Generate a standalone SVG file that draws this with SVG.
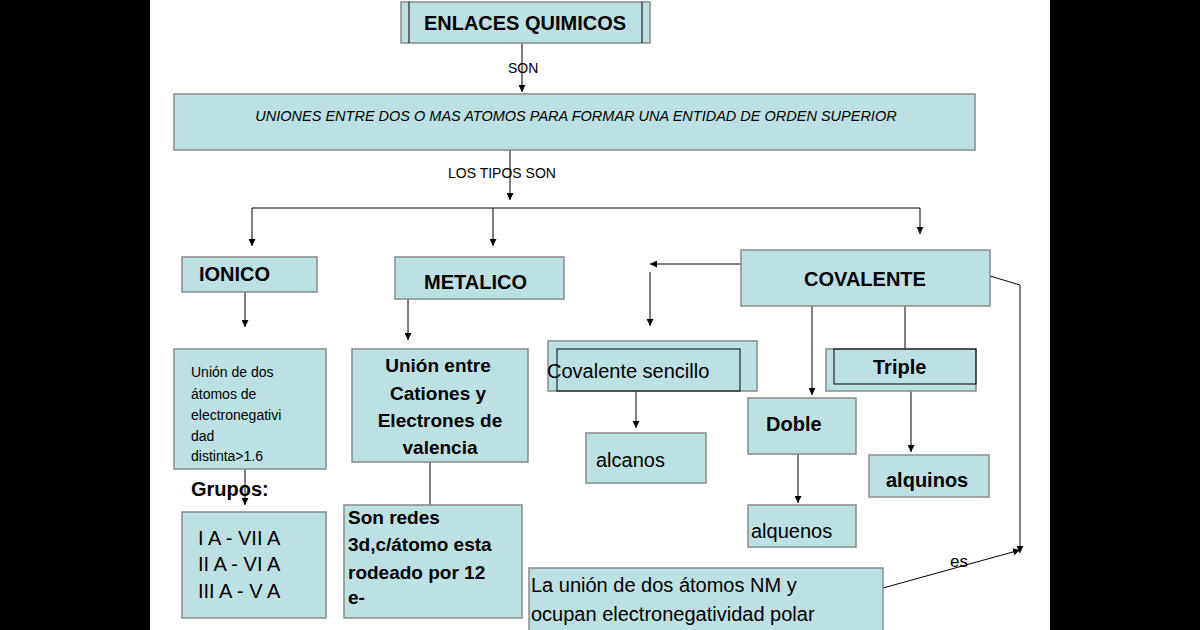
<svg xmlns="http://www.w3.org/2000/svg" width="1200" height="630" viewBox="0 0 1200 630">
<defs>
<style>
.b{fill:#bde0e3;stroke:#8a8a8a;stroke-width:1.5}
.l{fill:none;stroke:#000;stroke-width:1}
.a{fill:none;stroke:#000;stroke-width:1;marker-end:url(#ar)}
text{font-family:"Liberation Sans",Arial,sans-serif;fill:#000}
.t{font-size:20px;font-weight:bold}
.s{font-size:14px}
.m{font-size:19px;font-weight:bold}
</style>
<marker id="ar" viewBox="0 0 10 10" refX="10" refY="5" markerWidth="7" markerHeight="7" markerUnits="userSpaceOnUse" orient="auto"><path d="M0,0L10,5L0,10z" fill="#000"/></marker>
</defs>
<rect x="0" y="0" width="1200" height="630" fill="#fff"/>
<rect x="0" y="0" width="150" height="630" fill="#000"/>
<rect x="1050" y="0" width="150" height="630" fill="#000"/>
<g id="connectors">
<path class="a" d="M522,43V92"/>
<path class="a" d="M510,150V200"/>
<path class="l" d="M252,208H920"/>
<path class="a" d="M252,208V246"/>
<path class="a" d="M493,208V246"/>
<path class="a" d="M920,208V234"/>
<path class="a" d="M245,292V327"/>
<path class="a" d="M408,299V340"/>
<path class="a" d="M741,264H650"/>
<path class="a" d="M650,272V326"/>
<path class="a" d="M245,469V505"/>
<path class="l" d="M430,462V505"/>
<path class="a" d="M636,391V428"/>
<path class="a" d="M812,306V395"/>
<path class="l" d="M905,306V349"/>
<path class="a" d="M798,454V503"/>
<path class="a" d="M911,391V452"/>
<path class="l" d="M990,276L1020,285"/>
<path class="a" d="M1020,285V553"/>
<path class="a" d="M883,588L1020,550"/>
<text x="508" y="73" class="s">SON</text>
<text x="448" y="178" class="s">LOS TIPOS SON</text>
<text x="950" y="567" style="font-size:17px">es</text>
</g>
<g id="n-enlaces"><rect class="b" x="401" y="2" width="249" height="41"/><path class="l" d="M409,2V43M642,2V43" stroke="#555"/><text x="525" y="30" class="t" text-anchor="middle">ENLACES QUIMICOS</text></g>
<g id="n-uniones"><rect class="b" x="174" y="94" width="801" height="56"/><text x="576" y="121" text-anchor="middle" style="font-size:14.5px;font-style:italic">UNIONES ENTRE DOS O MAS ATOMOS PARA FORMAR UNA ENTIDAD DE ORDEN SUPERIOR</text></g>
<g id="n-ionico"><rect class="b" x="182" y="257" width="135" height="35"/><text x="199" y="281" class="t">IONICO</text></g>
<g id="n-metalico"><rect class="b" x="395" y="257" width="169" height="42"/><text x="424" y="289" class="t">METALICO</text></g>
<g id="n-covalente"><rect class="b" x="741" y="250" width="249" height="56"/><text x="865" y="286" class="t" text-anchor="middle">COVALENTE</text></g>
<g id="n-ionico-def"><rect class="b" x="174" y="349" width="152" height="120"/><text class="s" x="191" y="377">Unión de dos</text><text class="s" x="191" y="399">átomos de</text><text class="s" x="191" y="420">electronegativi</text><text class="s" x="191" y="441">dad</text><text class="s" x="191" y="461">distinta&gt;1.6</text></g>
<g id="n-metal-def"><rect class="b" x="352" y="349" width="176" height="113"/><g class="m" text-anchor="middle"><text x="438" y="372">Unión entre</text><text x="438" y="400">Cationes y</text><text x="440" y="427">Electrones de</text><text x="440" y="454">valencia</text></g></g>
<g id="n-sencillo"><rect class="b" x="548" y="341" width="209" height="50"/><rect class="l" x="557" y="349" width="183" height="42" stroke="#555"/><text x="547" y="378" class="m" style="font-weight:normal;font-size:20px">Covalente sencillo</text></g>
<g id="n-triple"><rect class="b" x="826" y="349" width="150" height="42"/><rect class="l" x="834" y="349" width="142" height="35" stroke="#555"/><text x="873" y="374" class="m" style="font-size:20px">Triple</text></g>
<g id="n-alcanos"><rect class="b" x="586" y="433" width="120" height="50"/><text x="596" y="467" class="m" style="font-weight:normal;font-size:20px">alcanos</text></g>
<g id="n-doble"><rect class="b" x="748" y="398" width="108" height="56"/><text x="766" y="431" class="m" style="font-size:20px">Doble</text></g>
<g id="n-alquinos"><rect class="b" x="869" y="455" width="120" height="42"/><text x="886" y="487" class="m" style="font-size:20px">alquinos</text></g>
<g id="n-alquenos"><rect class="b" x="748" y="505" width="108" height="42"/><text x="751" y="538" class="m" style="font-weight:normal;font-size:20px">alquenos</text></g>
<g id="n-grupos-label"><text x="191" y="496" class="m" style="font-size:20px">Grupos:</text></g>
<g id="n-grupos"><rect class="b" x="182" y="512" width="144" height="106"/><g class="m" style="font-size:20px;font-weight:normal"><text x="198" y="545">I A - VII A</text><text x="198" y="571">II A - VI A</text><text x="198" y="598">III A - V A</text></g></g>
<g id="n-redes"><rect class="b" x="344" y="505" width="178" height="113"/><g class="m"><text x="348" y="524">Son redes</text><text x="348" y="551">3d,c/átomo esta</text><text x="348" y="579">rodeado por  12</text><text x="348" y="604">e-</text></g></g>
<g id="n-polar"><rect class="b" x="529" y="568" width="354" height="70"/><g class="m" style="font-weight:normal;font-size:20px"><text x="531" y="592">La unión de dos átomos NM y</text><text x="531" y="621">ocupan electronegatividad polar</text></g></g>
</svg>
